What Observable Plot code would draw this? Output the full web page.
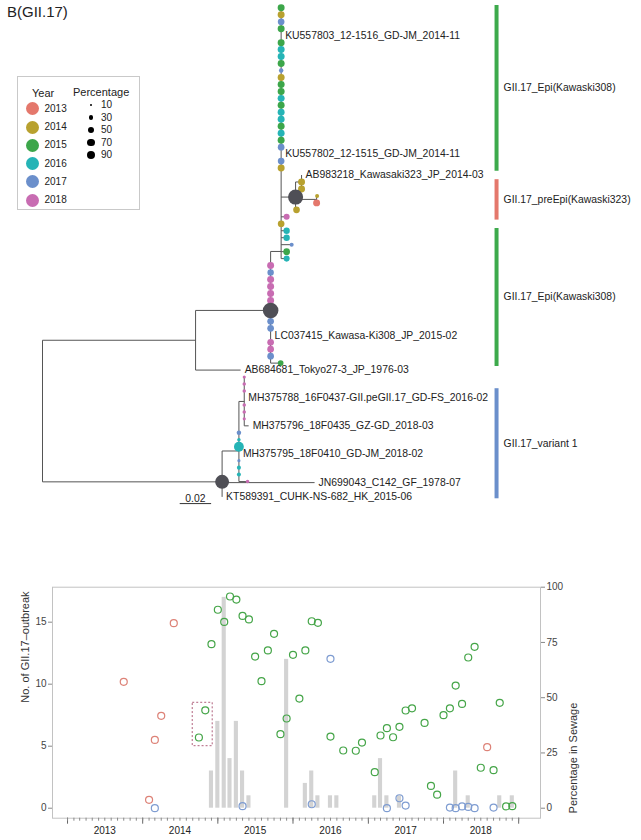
<!DOCTYPE html>
<html><head><meta charset="utf-8">
<script src="https://cdn.jsdelivr.net/npm/d3@7"></script>
<script src="https://cdn.jsdelivr.net/npm/@observablehq/plot@0.6"></script>
<style>
body{margin:0;background:#fff;}
#root{position:relative;width:641px;height:840px;font-family:"Liberation Sans",Arial,Helvetica,sans-serif;color:#222;overflow:hidden;background:#fff}
.abs{position:absolute}
</style></head><body><div id="root"></div>
<script>
// ---------------- TREE DATA ----------------
const years = [2013, 2014, 2015, 2016, 2017, 2018];
const yearColors = ["#E4786C", "#B8A12F", "#3CA64A", "#25B4B6", "#6B8FCB", "#C86CB2"];
const pctLegend = [10, 30, 50, 70, 90];

// internal nodes (branch length in substitutions/site)
const nodeIds    = ["R", "A", "B", "D", "P", "P1", "P2", "C", "E", "F"];
const nodeParent = [null, "R", "A", "B", "D", "P", "P", "R", "C", "E"];
const nodeLen    = [0, 0.0975, 0.0478, 0.0067, 0.0092, 0.0038, 0.0134, 0.1144, 0.0107, 0.0034];
const nodeLadder = [false, false, false, true, false, false, false, true, false, false];
const nodePct    = [null, null, 300, null, 280, null, null, 240, null, null];

// tips, in top-to-bottom order
const tipParent = [
 "D","D","D","D","D","D","D","D","D","D","D","D","D","D","D","D","D","D","D","D","D","D","D","D",
 "P1","P1","P1","P2","P2","P",
 "D","D","D","D","D","D","D",
 "B","B","B","B","B","B","B","B","B","B","B","B","B","B","B",
 "A",
 "F","F","F","F","F","F","F","F",
 "E","E","E","E","E","E","E","E",
 "C","C"
];
const tipLen = [
 0,0,0,0,0,0,0,0,0,0,0,0,0,0,0,0,0,0,0,0,0,0,0,0,
 0,0,0,0.0003,0,0.0006,
 0.0035,0,0.0035,0.0035,0.0067,0.0035,0.0035,
 0,0,0,0,0,0,0,0,0,0,0,0,0,0,0.0064,
 0.0287,
 0,0,0,0,0,0,0,0.0028,
 0,0,0,0,0,0,0,0.0055,
 0.0589,0
];
const tipYear = [
 2015,2014,2017,2015,null,2015,2016,2016,2015,2017,2014,2015,2015,2016,2015,2016,2016,2015,2016,2015,2017,null,2017,2014,
 null,2014,2014,2014,2013,2014,
 2018,2014,2016,2016,2017,2015,2016,
 2018,2017,2018,2018,2018,2018,2018,2017,2017,2017,null,2018,2018,2017,2015,
 null,
 2018,2018,2018,null,2018,2018,2018,null,
 2017,2016,2016,null,2017,2016,2016,2018,
 null,null
];
const tipPct = [
 60,60,55,60,null,60,60,60,60,25,60,60,60,60,60,60,60,60,60,60,55,null,55,60,
 null,60,60,20,60,55,
 45,55,50,50,20,55,45,
 60,50,60,60,60,60,60,50,55,55,null,55,55,55,40,
 null,
 12,15,15,null,15,15,12,null,
 25,15,120,null,12,20,20,15,
 null,null
];
// small vertical spacing adjustments of tip rows (in rows)
const tipShiftIdx = [69, 70];
const tipShiftRows = [-0.85, 0.2];
const tipLabelIdx = [4, 21, 24, 47, 52, 56, 60, 64, 69, 70];
const tipLabelText = [
 "KU557803_12-1516_GD-JM_2014-11",
 "KU557802_12-1515_GD-JM_2014-11",
 "AB983218_Kawasaki323_JP_2014-03",
 "LC037415_Kawasa-Ki308_JP_2015-02",
 "AB684681_Tokyo27-3_JP_1976-03",
 "MH375788_16F0437-GII.peGII.17_GD-FS_2016-02",
 "MH375796_18F0435_GZ-GD_2018-03",
 "MH375795_18F0410_GD-JM_2018-02",
 "JN699043_C142_GF_1978-07",
 "KT589391_CUHK-NS-682_HK_2015-06"
];

const cladeNames  = ["GII.17_Epi(Kawaski308)", "GII.17_preEpi(Kawaski323)", "GII.17_Epi(Kawaski308)", "GII.17_variant 1"];
const cladeColors = ["#3DAA4C", "#E4786C", "#3DAA4C", "#6B8FCB"];
const cladeFirstTip = [0, 25, 32, 55];
const cladeLastTip  = [23, 30, 51, 70];
const cladeX = 0.2892;
const scaleBarLen = 0.02;

// ---------------- OUTBREAK / SEWAGE DATA ----------------
const barMonths = ["2014-12","2015-01","2015-02","2015-03","2015-04","2015-05","2015-06","2015-12","2016-03","2016-04","2016-05","2016-07","2016-08","2017-02","2017-03","2017-04","2017-06","2018-03","2018-05","2018-10","2018-12"];
const barCounts = [3,7,17,4,7,3,1,12,2,3,1,1,1,1,4,1,1,3,1,1,1];

const preEpiMonths = ["2013-10","2014-02","2014-03","2014-04","2014-06","2018-08"];
const preEpiPct = [57.2, 3.8, 30.9, 41.8, 83.7, 27.6];
const epiMonths = ["2014-10","2014-11","2014-12","2015-01","2015-02","2015-03","2015-04","2015-05","2015-06","2015-07","2015-08","2015-09","2015-10","2015-11","2015-12","2016-01","2016-02","2016-03","2016-04","2016-05","2016-07","2016-09","2016-11","2016-12","2017-02","2017-03","2017-04","2017-05","2017-06","2017-07","2017-08","2017-10","2017-11","2017-12","2018-01","2018-02","2018-03","2018-04","2018-05","2018-06","2018-07","2018-09","2018-10","2018-11","2018-12"];
const epiPct = [32.0,44.3,74.2,89.8,84.3,95.8,94.4,87.0,85.4,68.6,57.5,71.4,78.9,33.5,40.6,69.4,49.6,71.4,84.6,83.9,32.4,26.1,26.0,29.7,16.3,32.9,36.2,32.1,36.8,44.2,45.2,38.6,10.1,6.1,42.1,45.2,55.5,47.2,68.2,73.0,18.3,17.2,47.7,0.8,0.9];
const variantMonths = ["2014-03","2015-05","2016-04","2016-07","2017-04","2017-06","2017-07","2018-02","2018-03","2018-04","2018-05","2018-06","2018-09"];
const variantPct = [0, 0.9, 1.8, 67.6, 0, 4.5, 1.2, 0.3, 0, 0.8, 0.6, 0, 0.3];
const seriesColors = {preEpi: "#DD8277", epi: "#45A548", variant: "#7E9CD1"};
const boxMonths = ["2014-09-01", "2014-12-07"];
const boxCounts = [5, 8.5];
const countMax = 17.82;              // left axis value that matches 100 % on the right axis
const pctTicks = [0, 25, 50, 75, 100];
const countTicks = [0, 5, 10, 15];

// ---------------- TREE LAYOUT ----------------
const all = [];
nodeIds.forEach((id, i) => all.push({id, parent: nodeParent[i], len: nodeLen[i], ladder: nodeLadder[i], pct: nodePct[i], children: []}));
const tips = tipParent.map((p, i) => ({id: "t" + i, parent: p, len: tipLen[i], year: tipYear[i], pct: tipPct[i], label: null, y: i, children: []}));
tipShiftIdx.forEach((k, j) => tips[k].y += tipShiftRows[j]);
tipLabelIdx.forEach((k, j) => tips[k].label = tipLabelText[j]);
all.push(...tips);
const byId = new Map(all.map(d => [d.id, d]));
all.forEach(d => { if (d.parent) byId.get(d.parent).children.push(d); });
function setX(n, x0) { n.x = x0 + n.len; n.children.forEach(c => setX(c, n.x)); }
function setY(n) {
  if (!n.children.length) return n.y;
  const ys = n.children.map(setY);
  if (n.ladder) { const s = ys.slice().sort((a, b) => a - b); let y = s[0]; for (let k = 1; k < s.length; k++) y = (y + s[k]) / 2; n.y = y; }
  else n.y = d3.mean(ys);
  return n.y;
}
const root = byId.get("R");
setX(root, 0); setY(root);
const segs = [];
all.forEach(n => {
  if (n.children.length) { const ys = n.children.map(c => c.y); segs.push({x1: n.x, x2: n.x, y1: d3.min(ys), y2: d3.max(ys)}); }
  if (n.parent) { const p = byId.get(n.parent); if (n.x > p.x) segs.push({x1: p.x, x2: n.x, y1: n.y, y2: n.y}); }
});
const clades = cladeNames.map((name, i) => ({name, color: cladeColors[i], a: cladeFirstTip[i] - 0.4, b: cladeLastTip[i] + 0.4}));
const bigNodes = all.filter(d => d.pct != null && d.children.length);
const dotTips = tips.filter(d => d.year != null);
const labelTips = tips.filter(d => d.label);
const nTips = tipParent.length - 1;

const fontFam = '"Liberation Sans", Arial, Helvetica, sans-serif';
const rootEl = document.getElementById("root");

const treePlot = Plot.plot({
  width: 641, height: 520,
  marginLeft: 42, marginRight: 0, marginTop: 7.3, marginBottom: 25,
  x: {domain: [0, 599 / 1570], axis: null},
  y: {domain: [0, nTips], reverse: true, axis: null},
  r: {type: "sqrt", domain: [0, 100], range: [0, 4.5]},
  color: {type: "ordinal", domain: years, range: yearColors},
  style: {fontFamily: fontFam, fontSize: "10.4px", color: "#222", background: "transparent", overflow: "visible"},
  marks: [
    Plot.link(segs, {x1: "x1", y1: "y1", x2: "x2", y2: "y2", stroke: "#555", strokeWidth: 1}),
    Plot.link(clades, {x1: () => cladeX, x2: () => cladeX, y1: "a", y2: "b", stroke: "color", strokeWidth: 4}),
    Plot.text(clades, {x: () => cladeX, y: d => (d.a + d.b) / 2, text: "name", dx: 7, textAnchor: "start", fill: "#222"}),
    Plot.dot(dotTips, {x: "x", y: "y", r: "pct", fill: "year"}),
    Plot.dot(bigNodes, {x: "x", y: "y", r: "pct", fill: "#4f4f56"}),
    Plot.text(labelTips, {x: "x", y: "y", text: "label", dx: 4, textAnchor: "start", fill: "#222"}),
    Plot.link([{x1: 0.0874, x2: 0.0874 + scaleBarLen, y: nTips + 1.16}], {x1: "x1", x2: "x2", y1: "y", y2: "y", stroke: "#333", strokeWidth: 1}),
    Plot.text([{x: 0.0874 + scaleBarLen / 2, y: nTips + 0.4}], {x: "x", y: "y", text: () => String(scaleBarLen), fill: "#222"})
  ]
});
treePlot.classList.add("abs"); treePlot.style.left = "0px"; treePlot.style.top = "0px";
rootEl.appendChild(treePlot);

// title
const title = document.createElement("div");
title.className = "abs"; title.textContent = "B(GII.17)";
Object.assign(title.style, {left: "7px", top: "3px", fontSize: "15px", color: "#222"});
rootEl.appendChild(title);

// legend
const rLeg = d3.scaleSqrt().domain([0, 100]).range([0, 4.5]);
const leg = document.createElement("div");
leg.className = "abs";
Object.assign(leg.style, {left: "17px", top: "76px", width: "121px", height: "132px", border: "1px solid #c9c9c9", background: "#fff", fontSize: "10px", color: "#222"});
function addText(parent, txt, left, cy, size) {
  const t = document.createElement("div"); t.className = "abs"; t.textContent = txt;
  Object.assign(t.style, {left: left + "px", top: cy + "px", transform: "translateY(-50%)", fontSize: size + "px", lineHeight: "1", whiteSpace: "nowrap"});
  parent.appendChild(t);
}
function addDot(parent, cx, cy, r, color) {
  const c = document.createElement("div"); c.className = "abs";
  Object.assign(c.style, {left: (cx - r) + "px", top: (cy - r) + "px", width: 2 * r + "px", height: 2 * r + "px", borderRadius: "50%", background: color});
  parent.appendChild(c);
}
addText(leg, "Year", 14, 15.5, 11);
addText(leg, "Percentage", 55, 14.5, 11);
years.forEach((yr, i) => { const cy = 31.7 + i * 18.3; addDot(leg, 14.7, cy, 6.5, yearColors[i]); addText(leg, String(yr), 26.5, cy, 10); });
pctLegend.forEach((p, i) => { const cy = 28 + i * 12.5; addDot(leg, 73, cy, rLeg(p), "#000"); addText(leg, String(p), 83, cy, 10); });
rootEl.appendChild(leg);

// ---------------- BOTTOM CHART ----------------
const parseM = d3.utcParse("%Y-%m");
const parseD = d3.utcParse("%Y-%m-%d");
const PCT = countMax / 100;
const bars = barMonths.map((m, i) => ({date: parseM(m), n: barCounts[i]}));
const pts = [
  ...preEpiMonths.map((m, i) => ({date: parseM(m), pct: preEpiPct[i], s: "preEpi"})),
  ...epiMonths.map((m, i) => ({date: parseM(m), pct: epiPct[i], s: "epi"})),
  ...variantMonths.map((m, i) => ({date: parseM(m), pct: variantPct[i], s: "variant"}))
];
const yearStarts = d3.utcYears(new Date(Date.UTC(2013, 0, 1)), new Date(Date.UTC(2019, 0, 2)));
const monthStarts = d3.utcMonths(new Date(Date.UTC(2013, 0, 1)), new Date(Date.UTC(2019, 0, 2)));
const yearMids = years.map(y => new Date(Date.UTC(y, 6, 1)));

const chart = Plot.plot({
  width: 641, height: 280,
  marginLeft: 52, marginRight: 101, marginTop: 26.7, marginBottom: 22.3,
  x: {type: "utc", domain: [new Date(Date.UTC(2012, 9, 20)), new Date(Date.UTC(2019, 3, 17))]},
  y: {domain: [-0.806, countMax]},
  style: {fontFamily: fontFam, fontSize: "10px", color: "#333", background: "transparent", overflow: "visible"},
  marks: [
    Plot.rect(bars, {x1: d => d3.utcDay.offset(d.date, -10), x2: d => d3.utcDay.offset(d.date, 10), y1: () => 0, y2: "n", fill: "#d3d3d3"}),
    Plot.frame({stroke: "#c2c2c2"}),
    Plot.rect([0], {x1: () => parseD(boxMonths[0]), x2: () => parseD(boxMonths[1]), y1: () => boxCounts[0], y2: () => boxCounts[1], fill: "none", stroke: "#b0607c", strokeWidth: 1, strokeDasharray: "2,2"}),
    Plot.dot(pts, {x: "date", y: d => d.pct * PCT, r: 3.5, stroke: d => seriesColors[d.s], strokeWidth: 1.2, fill: "none"}),
    Plot.axisY({anchor: "left", ticks: countTicks, tickSize: 4, tickPadding: 2, label: null, stroke: "#888", fill: "#444"}),
    Plot.axisY({anchor: "right", ticks: pctTicks.map(p => p * PCT), tickFormat: d => String(Math.round(d / PCT)), tickSize: 4, tickPadding: 2, label: null, stroke: "#888", fill: "#444"}),
    Plot.axisX({ticks: yearStarts, tickSize: 6, tickFormat: () => "", label: null, stroke: "#666"}),
    Plot.axisX({ticks: monthStarts, tickSize: 3, tickFormat: () => "", label: null, stroke: "#888"}),
    Plot.axisX({ticks: yearMids, tickSize: 0, tickPadding: 9, tickFormat: d3.utcFormat("%Y"), label: null, fill: "#222"}),
    Plot.text(["No. of GII.17\u2013outbreak"], {frameAnchor: "left", rotate: -90, dx: -27, fontSize: 11, fill: "#333"}),
    Plot.text(["Percentage in Sewage"], {frameAnchor: "right", rotate: -90, dx: 33, fontSize: 11, fill: "#333"})
  ]
});
chart.classList.add("abs"); chart.style.left = "0px"; chart.style.top = "560px";
rootEl.appendChild(chart);
</script></body></html>
